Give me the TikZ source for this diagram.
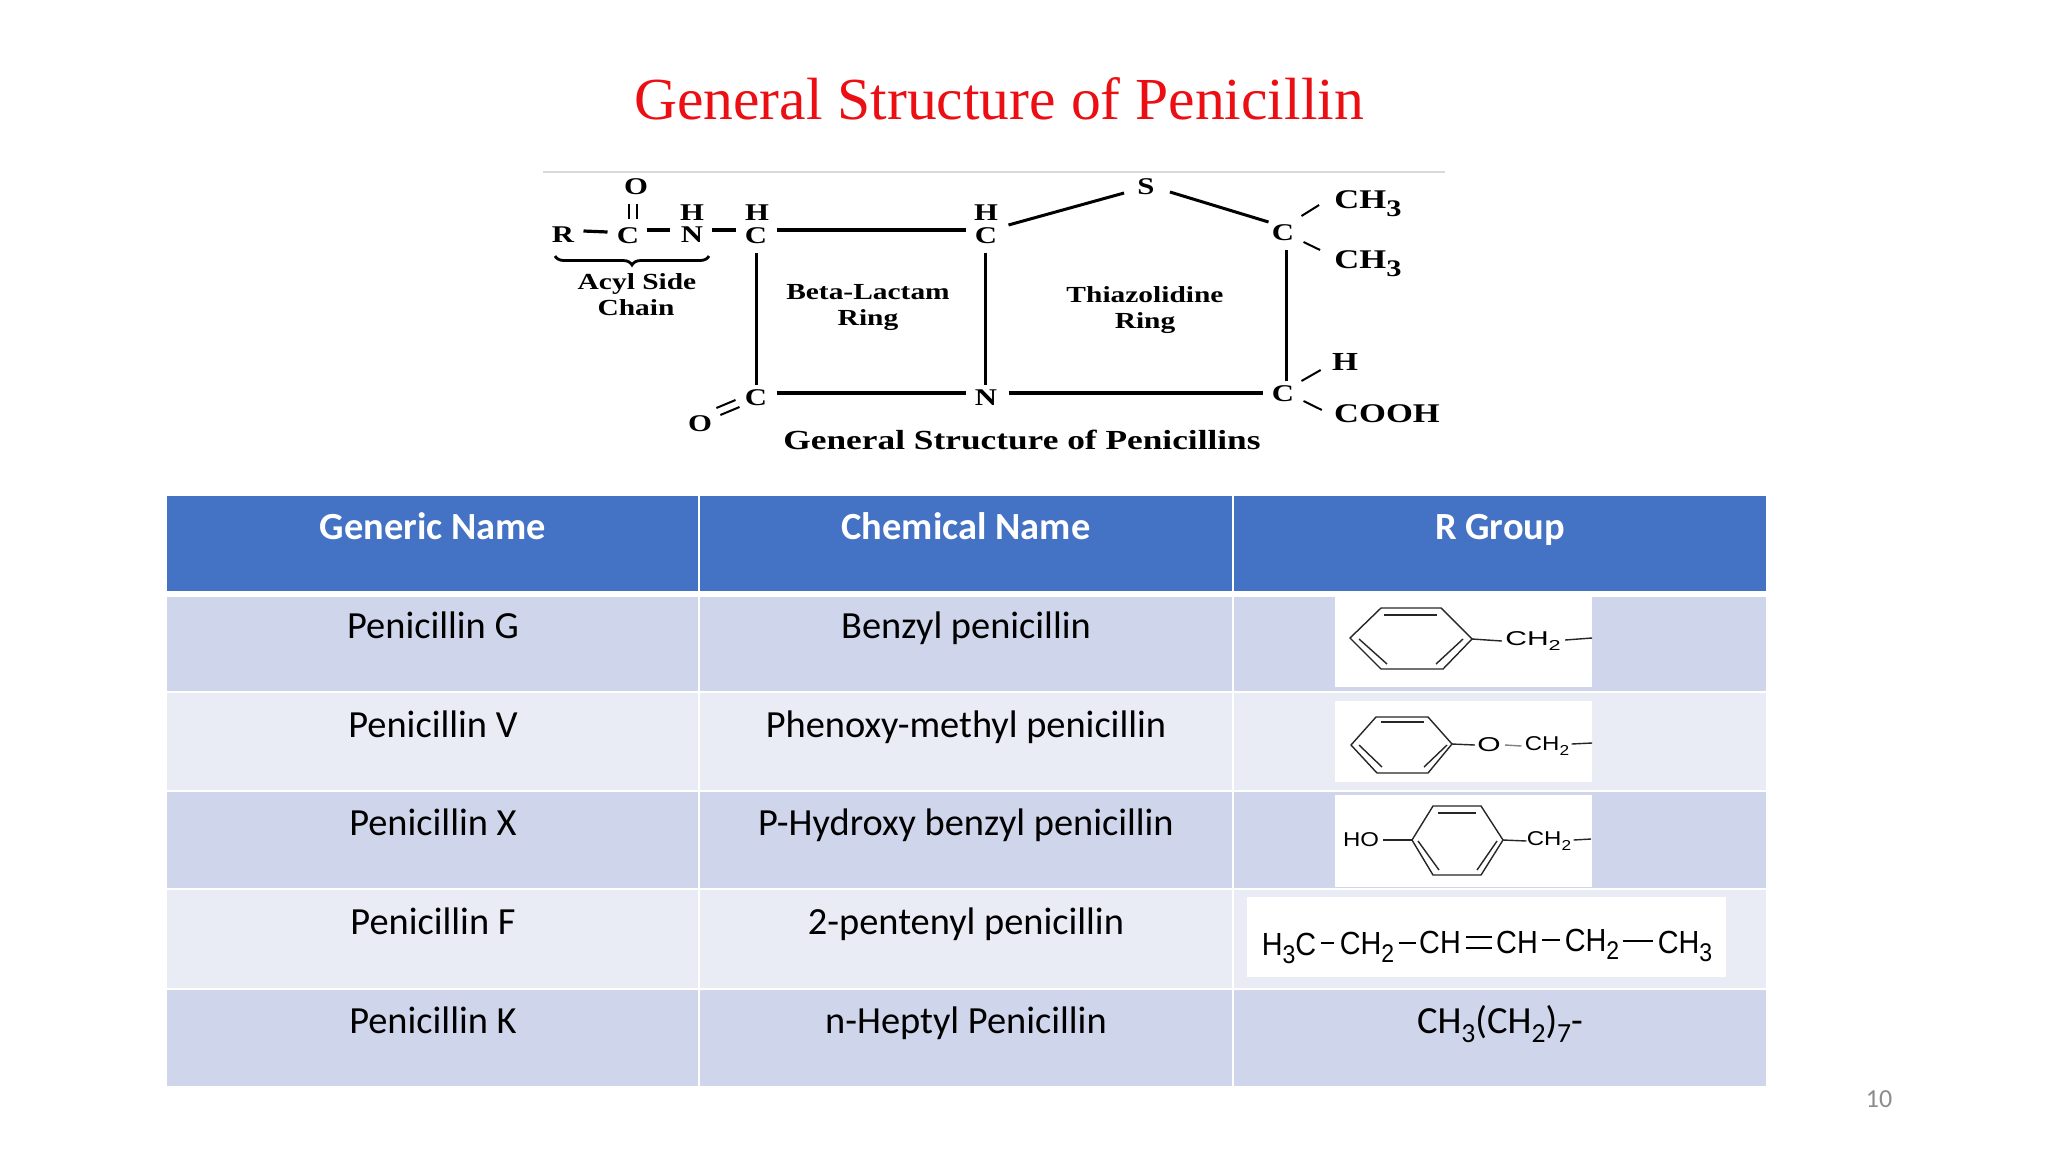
\documentclass[tikz,border=0pt]{standalone}
\usepackage{fontspec}
\usepackage{xcolor}
\usetikzlibrary{decorations.pathreplacing}
\setmainfont{Carlito}
\newfontfamily\titlefont{Liberation Serif}
\newfontfamily\chemfont[FakeStretch=1.28]{Liberation Serif}
\newfontfamily\ringfont[FakeStretch=1.5]{Liberation Sans}
\newfontfamily\hofont[FakeStretch=1.2]{Liberation Sans}
\newfontfamily\chainfont[FakeStretch=.9]{Liberation Sans}
\newcommand{\chemsub}[1]{\raisebox{-.5ex}{\scalebox{.72}{#1}}}
\newcommand{\groupsub}[1]{\raisebox{-.65ex}{\scalebox{.88}{#1}}}
\newcommand{\chainsub}[1]{\raisebox{-.5ex}{\scalebox{.8}{#1}}}
\definecolor{headblue}{HTML}{4472C4}
\definecolor{rowdark}{HTML}{CFD5EA}
\definecolor{rowlight}{HTML}{E9EBF5}
\tikzset{
	atom/.style={font=\chemfont\bfseries\fontsize{12}{14}\selectfont, inner sep=4.5pt},
	group/.style={font=\chemfont\bfseries\fontsize{13.5}{15}\selectfont, inner sep=3pt},
	caption/.style={font=\chemfont\bfseries\fontsize{11.5}{13}\selectfont, inner sep=0pt},
	bond/.style={line width=1.6pt, black},
	sidebond/.style={line width=1.5pt, black},
	thinbond/.style={line width=1pt, black},
	cell/.style={font=\fontsize{19.2}{23}\selectfont, anchor=base, inner sep=0pt},
	headcell/.style={cell, font=\fontsize{19.2}{23}\selectfont\bfseries, text=white},
	ring/.style={line width=.7pt, black!85},
	ringtext/.style={font=\ringfont\fontsize{10}{12}\selectfont, inner sep=0pt},
	hotext/.style={font=\hofont\fontsize{10}{12}\selectfont, inner sep=0pt},
	chain/.style={font=\chainfont\fontsize{16}{19}\selectfont, anchor=base, inner sep=0pt},
	chainbond/.style={line width=.7pt, black},
}

\begin{document}
\begin{tikzpicture}[x=0.5pt, y=-0.5pt]
	\useasboundingbox (0,0) rectangle (2048,1152);

	\node[font=\titlefont\fontsize{29.8}{35}\selectfont, text={rgb,255:red,235;green,15;blue,20}] (title) at (999,99) {General Structure of Penicillin};
	\draw[black!15, line width=.6pt] (543,172) -- (1445,172);

	% side chain
	\node[atom] (r) at (563,235) {R};
	\node[atom] (co) at (628,236) {C};
	\node[atom] (ox) at (636,187) {O};
	\node[atom] (nh) at (692,235) {N};
	\node[atom] (hn) at (692,213) {H};
	\node[atom] (ca) at (756,236) {C};
	\node[atom] (ha) at (757,213) {H};
	\draw[bond] ([yshift=2pt]r.east) -- ([yshift=2pt]co.west);
	\draw[bond] ([xshift=-1pt,yshift=3pt]co.east) -- ([xshift=-1pt,yshift=2.5pt]nh.west);
	\draw[bond] ([xshift=-.5pt,yshift=2.5pt]nh.east) -- ([yshift=3pt]ca.west);
	\draw[thinbond] ([xshift=.5pt]co.north) -- ([xshift=-3.5pt]ox.south);
	\draw[thinbond] ([xshift=4.5pt]co.north) -- ([xshift=.5pt]ox.south);
	\coordinate (bl) at (555,256);
	\coordinate (br) at (709,256);
	\draw[line width=1.4pt, decorate, decoration={brace, mirror, amplitude=4.5pt}] (bl) -- (br);
	\node[caption] (acyl) at (637,284) {Acyl Side};
	\node[caption] (acylb) at (636,308) {Chain};

	% rings
	\node[atom] (cb) at (986,236) {C};
	\node[atom] (hb) at (986,213) {H};
	\node[atom] (su) at (1146,187) {S};
	\node[atom] (cc) at (1283,233) {C};
	\node[atom] (cd) at (1283,394) {C};
	\node[atom] (ce) at (756,398) {C};
	\node[atom] (nb) at (986,398) {N};
	\node[atom] (oe) at (700,424) {O};
	\draw[bond] ([yshift=3pt]ca.east) -- ([yshift=3pt]cb.west);
	\draw[sidebond] ([xshift=1pt,yshift=5.5pt]cb.east) -- ([xshift=-2pt,yshift=-3pt]su.west);
	\draw[sidebond] ([xshift=3pt,yshift=-2.5pt]su.east) -- ([xshift=3pt,yshift=5.5pt]cc.west);
	\draw[sidebond] (ca.south) -- ([yshift=-2pt]ce.north);
	\draw[sidebond] ([xshift=-.5pt]cb.south) -- ([xshift=-.5pt,yshift=-2pt]nb.north);
	\draw[sidebond] ([xshift=1.5pt]cc.south) -- ([xshift=1.5pt,yshift=-2pt]cd.north);
	\draw[bond] ([yshift=2.5pt]ce.east) -- ([yshift=2.5pt]nb.west);
	\draw[bond] ([xshift=1pt,yshift=2.5pt]nb.east) -- ([yshift=.5pt]cd.west);
	\draw[thinbond] ([xshift=-2.5pt,yshift=8pt]oe.east) -- ([yshift=-1pt]ce.west);
	\draw[thinbond] ([xshift=-.5pt,yshift=4.5pt]oe.east) -- ([xshift=2pt,yshift=-4.5pt]ce.west);

	% right hand groups
	\node[group] (mea) at (1368,204) {CH\groupsub{3}};
	\node[group] (meb) at (1368,264) {CH\groupsub{3}};
	\node[atom, font=\chemfont\bfseries\fontsize{13}{15}\selectfont] (hd) at (1345,362) {H};
	\node[group] (cooh) at (1387,414) {COOH};
	\draw[thinbond] ([xshift=-1pt,yshift=8.5pt]cc.east) -- ([xshift=-4.5pt,yshift=-.5pt]mea.west);
	\draw[thinbond] ([yshift=-4.5pt]cc.east) -- ([xshift=-4pt,yshift=7pt]meb.west);
	\draw[thinbond] ([xshift=-1pt,yshift=6.5pt]cd.east) -- ([xshift=-1pt,yshift=-4pt]hd.west);
	\draw[thinbond] ([yshift=-3.5pt]cd.east) -- ([xshift=-3pt,yshift=2pt]cooh.west);

	\node[caption] (ringa) at (868,292) {Beta-Lactam};
	\node[caption] (ringab) at (868,320) {Ring};
	\node[caption] (ringb) at (1145,295) {Thiazolidine};
	\node[caption] (ringbb) at (1145,323) {Ring};
	\node[caption, font=\chemfont\bfseries\fontsize{13.8}{16}\selectfont] (struct) at (1022,440) {General Structure of Penicillins};

	% table
	\fill[headblue] (167,496) rectangle (698,591);
	\fill[headblue] (700,496) rectangle (1232,591);
	\fill[headblue] (1234,496) rectangle (1766,591);
	\foreach \xa/\xb in {167/698, 700/1232, 1234/1766}
		\foreach \ya/\yb/\rowcol in {597/691/rowdark, 693/790/rowlight, 792/888/rowdark, 890/988/rowlight, 990/1086/rowdark}
			\fill[\rowcol] (\xa,\ya) rectangle (\xb,\yb);

	\node[headcell] (hga) at (433,539) {Generic Name};
	\node[headcell] (hgb) at (966,539) {Chemical Name};
	\node[headcell] (hgc) at (1500,539) {R Group};
	\node[cell] (ga) at (433,638) {Penicillin G};
	\node[cell] (gb) at (966,638) {Benzyl penicillin};
	\node[cell] (va) at (433,737) {Penicillin V};
	\node[cell] (vb) at (966,737) {Phenoxy-methyl penicillin};
	\node[cell] (xa) at (433,835) {Penicillin X};
	\node[cell] (xb) at (966,835) {P-Hydroxy benzyl penicillin};
	\node[cell] (fa) at (433,934) {Penicillin F};
	\node[cell] (fb) at (966,934) {2-pentenyl penicillin};
	\node[cell] (ka) at (433,1033) {Penicillin K};
	\node[cell] (kb) at (966,1033) {n-Heptyl Penicillin};
	\node[cell] (kc) at (1500,1033) {CH\chemsub{3}(CH\chemsub{2})\chemsub{7}-};

	\fill[white] (1335,597) rectangle (1592,687);
	\fill[white] (1335,701) rectangle (1592,782);
	\fill[white] (1335,795) rectangle (1592,887);
	\fill[white] (1247,897) rectangle (1726,977);

	% benzyl
	\draw[ring] (1350,638) -- (1381,608) -- (1441,608) -- (1472,639) -- (1443,669) -- (1381,669) -- cycle;
	\draw[ring] (1384,615) -- (1437,615);
	\draw[ring] (1359,639) -- (1387,664);
	\draw[ring] (1436,664) -- (1463,639);
	\node[ringtext] (cha) at (1533,641) {CH\chemsub{2}};
	\coordinate (ea) at (1592,638);
	\draw[ring] (1472,639) -- ([xshift=-1.5pt]cha.west);
	\draw[ring] ([xshift=2pt,yshift=.5pt]cha.east) -- (ea);

	% phenoxy
	\draw[ring] (1351,745) -- (1376,717) -- (1428,717) -- (1452,744) -- (1428,773) -- (1377,773) -- cycle;
	\draw[ring] (1381,722) -- (1424,722);
	\draw[ring] (1359,745) -- (1382,767);
	\draw[ring] (1424,767) -- (1447,745);
	\node[ringtext] (oxb) at (1489,745) {O};
	\node[hotext] (chb) at (1547,746) {CH\chemsub{2}};
	\coordinate (eb) at (1592,743);
	\draw[ring] (1452,744) -- ([xshift=-1pt]oxb.west);
	\draw[ring, black!50] ([xshift=2pt]oxb.east) -- ([xshift=-1.5pt]chb.west);
	\draw[ring] ([xshift=1pt,yshift=1pt]chb.east) -- (eb);

	% hydroxy
	\draw[ring] (1412,840) -- (1433,806) -- (1481,806) -- (1503,840) -- (1481,875) -- (1433,875) -- cycle;
	\draw[ring] (1438,813) -- (1476,813);
	\draw[ring] (1418,841) -- (1439,870);
	\draw[ring] (1477,870) -- (1497,841);
	\node[hotext] (hox) at (1361,840) {HO};
	\node[hotext] (chc) at (1549,841) {CH\chemsub{2}};
	\coordinate (ec) at (1591,839);
	\draw[ring] ([xshift=2pt]hox.east) -- (1412,840);
	\draw[ring] (1503,840) -- (chc.west);
	\draw[ring] ([xshift=1pt,yshift=.5pt]chc.east) -- (ec);

	% pentenyl
	\node[chain] (ta) at (1289,955) {H\chainsub{3}C};
	\node[chain] (tb) at (1367,954) {CH\chainsub{2}};
	\node[chain] (tc) at (1440,953) {CH};
	\node[chain] (td) at (1517,953) {CH};
	\node[chain] (te) at (1592,951) {CH\chainsub{2}};
	\node[chain] (tf) at (1685,953) {CH\chainsub{3}};
	\draw[chainbond] ([xshift=2pt,yshift=6pt]ta.base east) -- ([xshift=-2.5pt,yshift=5.5pt]tb.base west);
	\draw[chainbond] ([xshift=2pt,yshift=5.5pt]tb.base east) -- ([xshift=-1.5pt,yshift=5pt]tc.base west);
	\draw[chainbond] ([xshift=2.5pt,yshift=8pt]tc.base east) -- ([xshift=-2pt,yshift=8pt]td.base west);
	\draw[chainbond] ([xshift=2.5pt,yshift=2.5pt]tc.base east) -- ([xshift=-2pt,yshift=2.5pt]td.base west);
	\draw[chainbond] ([xshift=2pt,yshift=6.5pt]td.base east) -- ([xshift=-2pt,yshift=5.5pt]te.base west);
	\draw[chainbond] ([xshift=1.5pt,yshift=5pt]te.base east) -- ([xshift=-2pt,yshift=6pt]tf.base west);

	\node[font=\fontsize{13}{15}\selectfont, text=black!45] (page) at (1879,1099) {10};
\end{tikzpicture}
\end{document}
